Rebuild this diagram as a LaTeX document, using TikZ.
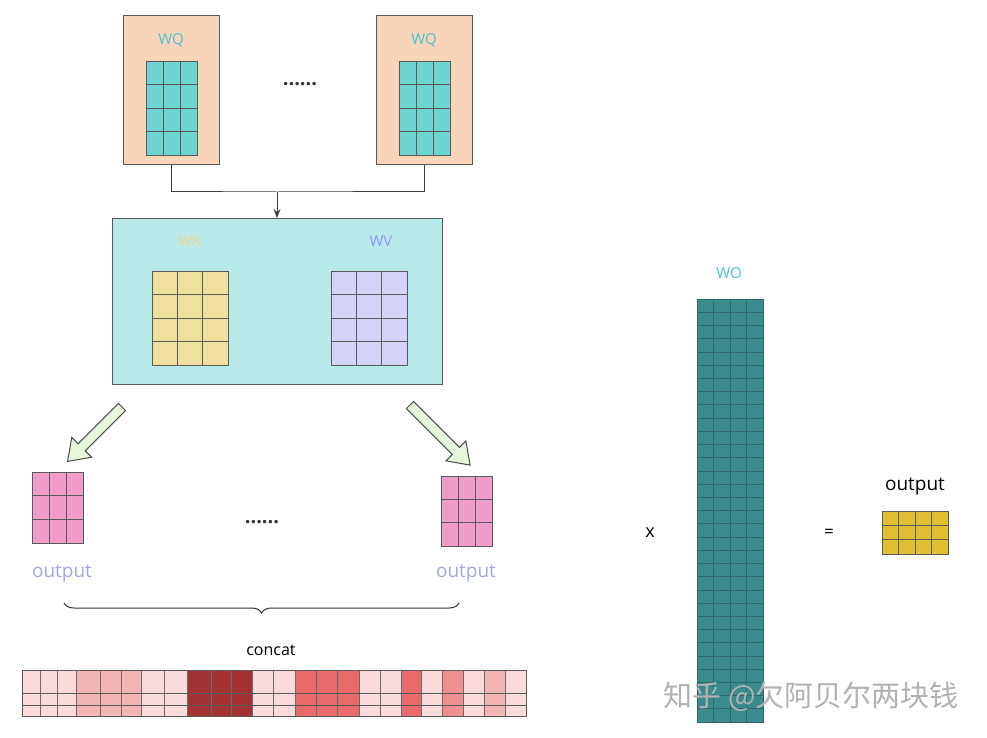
\documentclass[tikz,border=0pt]{standalone}
\usepackage{fontspec}
\setmainfont{Open Sans}
\newfontfamily\cjk{Noto Sans CJK SC}
\usetikzlibrary{decorations.pathreplacing,arrows.meta}
\definecolor{qcol}{HTML}{6ED3D3}
\definecolor{qtxt}{HTML}{4CC4D0}
\definecolor{otxt}{HTML}{A0AAE0}
\definecolor{qbox}{HTML}{F8D5B8}
\definecolor{kvbox}{HTML}{B8EAEA}
\definecolor{kcol}{HTML}{F0E0A0}
\definecolor{vcol}{HTML}{D4D4F8}
\definecolor{ocol}{HTML}{F09CC8}
\definecolor{wocol}{HTML}{3A8C8C}
\definecolor{woline}{HTML}{2E6A6A}
\definecolor{fcol}{HTML}{E0C030}
\definecolor{pkl}{HTML}{FADADA}
\definecolor{pkm}{HTML}{F2B5B5}
\definecolor{pkd}{HTML}{A33333}
\definecolor{pkr}{HTML}{E86A6A}
\definecolor{pks}{HTML}{EE9090}
\definecolor{gridc}{HTML}{5A5A5A}
\definecolor{arrf}{HTML}{E6F5DC}
\newcommand\mygrid[8]{%
  \fill[#7] (#1,#2) rectangle (#3,#4);
  \foreach \i in {1,...,#5}{\draw[#8,line width=0.6pt] ({#1+(#3-#1)*\i/#5},#2) -- ({#1+(#3-#1)*\i/#5},#4);}
  \foreach \j in {1,...,#6}{\draw[#8,line width=0.6pt] (#1,{#2+(#4-#2)*\j/#6}) -- (#3,{#2+(#4-#2)*\j/#6});}
  \draw[#8,line width=0.8pt] (#1,#2) rectangle (#3,#4);}
\newcommand\fatarrow[4]{%
  \begin{scope}[shift={(#1,#2)},rotate=#3]
  \draw[fill=arrf,draw=black!70,line width=1pt,line join=miter] (0,-5) -- ({#4-20},-5) -- ({#4-20},-14) -- (#4,0) -- ({#4-20},14) -- ({#4-20},5) -- (0,5) -- cycle;
  \end{scope}}
\tikzset{
  boxst/.style={draw=gridc,line width=1pt,anchor=north west,inner sep=0pt},
  lbl/.style={font=\fontsize{15}{15}\selectfont},
  big/.style={font=\fontsize{19}{19}\selectfont},
}
\begin{document}
\begin{tikzpicture}[x=1pt,y=-1pt]
\useasboundingbox[fill=white] (0,0) rectangle (987,738);
\node[boxst,fill=qbox,minimum width=96pt,minimum height=149pt] (q1) at (123,15) {};
\node[boxst,fill=qbox,minimum width=96pt,minimum height=149pt] (q2) at (376,15) {};
\node[lbl,text=qtxt] (lq1) at (171,40) {WQ};
\node[lbl,text=qtxt] (lq2) at (424,40) {WQ};
\mygrid{146}{61}{197}{155}{3}{4}{qcol}{gridc}
\mygrid{399}{61}{450}{155}{3}{4}{qcol}{gridc}
\node[font=\bfseries\fontsize{20}{20}\selectfont,text=black!80] (d1) at (300,84) {......};
\node[boxst,fill=kvbox,minimum width=330pt,minimum height=166pt] (kv) at (112,218) {};
\node[lbl,text=kcol!85!orange] (lk) at (190,241) {WK};
\node[lbl,text=vcol!70!blue] (lv) at (381,241) {WV};
\mygrid{152}{271}{228}{365}{3}{4}{kcol}{gridc}
\mygrid{331}{271}{407}{365}{3}{4}{vcol}{gridc}
\coordinate (j) at (277,192);
\draw[black!75,line width=1pt] (q1.south) |- (j) -| (q2.south);
\draw[black!75,line width=1pt,-{Stealth[length=9pt,width=7pt]}] (j) -- (kv.north -| j);
\fatarrow{122}{407}{-135}{77}
\fatarrow{410}{405}{-45}{85}
\mygrid{32}{472}{83}{543}{3}{3}{ocol}{gridc}
\mygrid{441}{476}{492}{546}{3}{3}{ocol}{gridc}
\node[big,text=otxt] (o1) at (62,574) {output};
\node[big,text=otxt] (o2) at (466,574) {output};
\node[font=\bfseries\fontsize{20}{20}\selectfont,text=black!80] (d2) at (262,522) {......};
\draw[black!80,line width=1pt,decorate,decoration={brace,amplitude=10pt,mirror}] (64,603) -- (459,603);
\node[font=\fontsize{16}{16}\selectfont] (cc) at (271,650) {concat};
\def\bounds{22.3,40,57.7,76,100,121.7,141.7,164,187.3,211,231.7,252.7,273.3,295,316.7,337.7,359,380,401,421,442.3,463.3,484.3,505,526.7}
\foreach \c [count=\k] in {pkl,pkl,pkl,pkm,pkm,pkm,pkl,pkl,pkd,pkd,pkd,pkl,pkl,pkr,pkr,pkr,pkl,pkl,pkr,pkl,pks,pkl,pkm,pkl}{
  \pgfmathsetmacro\xa{{\bounds}[\k-1]}
  \pgfmathsetmacro\xb{{\bounds}[\k]}
  \fill[\c] (\xa,670) rectangle (\xb,716);
  \draw[gridc!90,line width=0.7pt] (\xa,670) rectangle (\xb,716);
}
\draw[gridc,line width=0.7pt] (22.3,693) -- (526.7,693) (22.3,705) -- (526.7,705);
\draw[gridc,line width=0.8pt] (22.3,670) rectangle (526.7,716);
\node[lbl,text=qtxt] (wo) at (729,273) {WO};
\mygrid{697}{299}{763}{722}{4}{32}{wocol}{woline}
\node[font=\fontsize{18}{18}\selectfont] (xx) at (650,533) {x};
\node[font=\fontsize{17}{17}\selectfont] (eq) at (829,533) {=};
\node[big] (of) at (915,487) {output};
\mygrid{882}{511}{948}{554}{4}{3}{fcol}{gridc}
\node[font=\cjk\fontsize{29}{29}\selectfont,text=black!30] (wm) at (811,697) {知乎 @欠阿贝尔两块钱};
\end{tikzpicture}
\end{document}
